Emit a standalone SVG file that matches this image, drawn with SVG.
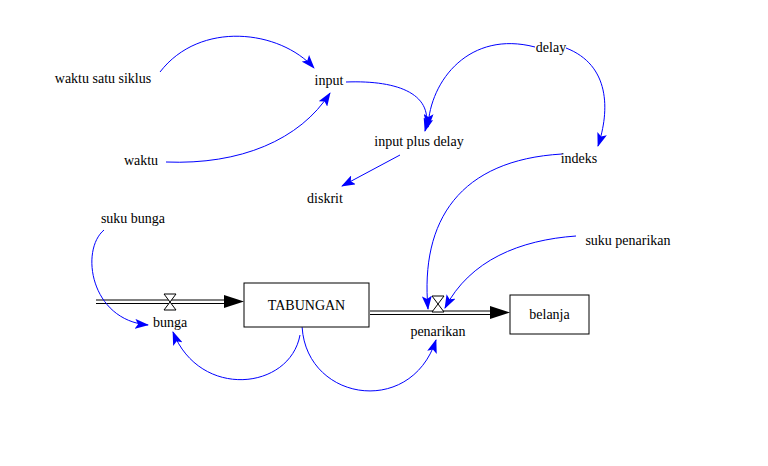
<svg xmlns="http://www.w3.org/2000/svg" width="768" height="466" viewBox="0 0 768 466">
<defs>
<marker id="b" markerWidth="14" markerHeight="10" refX="13" refY="5" orient="auto" markerUnits="userSpaceOnUse"><path d="M0,0 L14,5 L0,10 L3,5 Z" fill="#0000ff"/></marker>
</defs>
<style>
text{font-family:"Liberation Serif","Times New Roman",serif;font-size:14px;fill:#000}
.c{fill:none;stroke:#0000ff;stroke-width:1;marker-end:url(#b)}
.box{fill:#fff;stroke:#000;stroke-width:1}
.pipe{stroke:#000;stroke-width:1;fill:none}
</style>
<rect width="768" height="466" fill="#fff"/>
<g id="flows">
<path class="pipe" d="M96,300 H226 M96,303.5 H226"/>
<path d="M224,295 L244,301.5 L224,308 Z" fill="#000"/>
<path d="M164,294 H176 L164,310 H176 Z" fill="#fff" stroke="#000"/>
<path class="pipe" d="M370,311 H492 M370,314.5 H492"/>
<path d="M490,306 L510,312.5 L490,319 Z" fill="#000"/>
<path d="M432,296 H444 L432,312 H444 Z" fill="#fff" stroke="#000"/>
</g>
<g id="connectors">
<path class="c" d="M160,72 C200,20 280,30 314,68"/>
<path class="c" d="M166,162 C240,165 300,140 330,93"/>
<path class="c" d="M346,82 C400,80 435,95 425,131"/>
<path class="c" d="M535,47 C470,30 430,80 428,127"/>
<path class="c" d="M566,48 C610,65 610,110 598,146"/>
<path class="c" d="M400,155 L342,186"/>
<path class="c" d="M562,154 C460,160 420,220 428,309"/>
<path class="c" d="M576,236 C520,240 470,260 445,308"/>
<path class="c" d="M104,230 C80,250 90,320 148,325"/>
<path class="c" d="M300,335 C290,390 200,400 173,332"/>
<path class="c" d="M302,320 C300,400 410,420 436,340"/>
</g>
<g id="TABUNGAN"><rect class="box" x="244" y="283" width="125" height="44"/><text x="306.5" y="310" text-anchor="middle">TABUNGAN</text></g>
<g id="belanja"><rect class="box" x="510" y="295" width="79" height="39"/><text x="549.5" y="319" text-anchor="middle">belanja</text></g>
<g id="bunga"><text x="170" y="327" text-anchor="middle">bunga</text></g>
<g id="penarikan"><text x="438" y="336" text-anchor="middle">penarikan</text></g>
<g id="waktu_satu_siklus"><text x="103" y="83" text-anchor="middle">waktu satu siklus</text></g>
<g id="waktu"><text x="141" y="165" text-anchor="middle">waktu</text></g>
<g id="input"><text x="329" y="85" text-anchor="middle">input</text></g>
<g id="delay"><text x="551" y="52" text-anchor="middle">delay</text></g>
<g id="input_plus_delay"><text x="419" y="146" text-anchor="middle">input plus delay</text></g>
<g id="indeks"><text x="579" y="163" text-anchor="middle">indeks</text></g>
<g id="diskrit"><text x="325" y="203" text-anchor="middle">diskrit</text></g>
<g id="suku_bunga"><text x="133" y="223" text-anchor="middle">suku bunga</text></g>
<g id="suku_penarikan"><text x="628" y="245" text-anchor="middle">suku penarikan</text></g>
</svg>
